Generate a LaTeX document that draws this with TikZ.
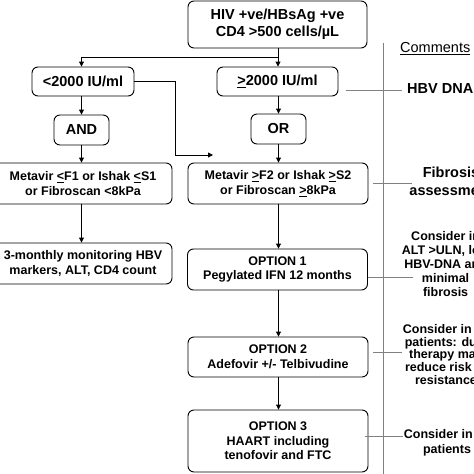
\documentclass[tikz,border=0pt]{standalone}
\usepackage{fontspec}
\setmainfont{Liberation Sans}
\usetikzlibrary{arrows.meta,calc}
\newcommand{\myul}[1]{\underline{#1}}
\tikzset{
  box/.style={draw, line width=0.9pt, rounded corners=6pt, fill=white, align=center, inner sep=0pt},
  big/.style={font=\fontsize{14.5}{17}\selectfont\bfseries},
  small/.style={font=\fontsize{12.5}{14.6}\selectfont\bfseries},
  arr/.style={line width=0.9pt, -{Triangle[length=5pt,width=5pt]}},
  gline/.style={draw=black!50, line width=0.8pt},
  ctext/.style={anchor=base, inner sep=0pt, font=\fontsize{12.5}{14.6}\selectfont\bfseries},
  ctitle/.style={anchor=base, inner sep=0pt, font=\fontsize{14.5}{17}\selectfont\bfseries}
}
\begin{document}
\begin{tikzpicture}[x=1pt,y=-1pt]
\useasboundingbox (0,0) rectangle (474,474);
\clip (0,0) rectangle (474,474);
\fill[white] (0,0) rectangle (474,474);

% main boxes
\node[box, big, minimum width=179pt, minimum height=47pt] (top) at (277.5,24.5) {HIV +ve/HBsAg +ve\\CD4 >500 cells/\textmu L};
\node[box, big, minimum width=102pt, minimum height=29pt] (lowL) at (83,81.5) {<2000 IU/ml};
\node[box, big, minimum width=121pt, minimum height=29pt] (hiR) at (277.5,81.5) {\myul{>}2000 IU/ml};
\node[box, big, minimum width=55pt, minimum height=30pt] (and) at (81.5,130) {AND};
\node[box, big, minimum width=55pt, minimum height=30pt] (or) at (278.5,129) {OR};
\node[box, small, minimum width=178pt, minimum height=41pt] (metL) at (83,183.5) {Metavir \myul{<}F1 or Ishak \myul{<}S1\\or Fibroscan <8kPa};
\node[box, small, minimum width=180pt, minimum height=41pt] (metR) at (278,183.5) {Metavir \myul{>}F2 or Ishak \myul{>}S2\\or Fibroscan \myul{>}8kPa};
\node[box, small, minimum width=178pt, minimum height=41pt] (mon) at (83,263.5) {3-monthly monitoring HBV\\markers, ALT, CD4 count};
\node[box, small, minimum width=180pt, minimum height=41pt] (opt1) at (277.5,269.5) {OPTION 1\\Pegylated IFN 12 months};
\node[box, small, minimum width=180pt, minimum height=40pt] (opt2) at (278,357) {OPTION 2\\Adefovir +/- Telbivudine};
\node[box, small, minimum width=180pt, minimum height=62pt] (opt3) at (278,441) {OPTION 3\\HAART including\\tenofovir and FTC};

% connectors
\coordinate (split) at (278,57);
\draw[arr] (top.south -| split) -- (hiR.north -| split);
\draw[arr] (split) -| (lowL.north -| and.north);
\draw[arr] (lowL.south -| and.north) -- (and.north);
\draw[arr] (hiR.south -| or.north) -- (or.north);
\coordinate (cross) at (213,155);
\draw[arr] (lowL.east) -- ++(41,0) |- (cross);
\draw[arr] (and.south) -- (and.south |- metL.north);
\draw[arr] (or.south) -- (or.south |- metR.north);
\draw[arr] (metL.south -| and.south) -- (and.south |- mon.north);
\draw[arr] (metR.south -| or.south) -- (or.south |- opt1.north);
\draw[arr] (opt1.south -| or.south) -- (or.south |- opt2.north);
\draw[arr] (opt2.south -| or.south) -- (or.south |- opt3.north);

% comments column
\draw[gline] (383.5,43) -- (383.5,480);
\node[anchor=base west, inner sep=0pt, font=\fontsize{14.5}{17}\selectfont] (ctitle) at (400,52.5) {\underline{Comments}};
\node[anchor=base west, inner sep=0pt, font=\fontsize{14.5}{17}\selectfont\bfseries] (c1) at (407,93.7) {HBV DNA};
\node[ctitle] (c2a) at (451,177.5) {Fibrosis};
\node[ctitle] (c2b) at (451,195.7) {assessment};
\node[ctext] (c3a) at (445.6,240.5) {Consider in};
\node[ctext] (c3b) at (445.6,254.5) {ALT >ULN, low};
\node[ctext] (c3c) at (445.6,268.5) {HBV-DNA and};
\node[ctext] (c3d) at (445.6,282.5) {minimal};
\node[ctext] (c3e) at (445.6,296.5) {fibrosis};
\node[ctext] (c4a) at (446,333.2) {Consider in all};
\node[ctext] (c4b) at (446,346) {patients: dual};
\node[ctext] (c4c) at (446,358.8) {therapy may};
\node[ctext] (c4d) at (446,371.6) {reduce risk of};
\node[ctext] (c4e) at (446,384.4) {resistance};
\node[ctext] (c5a) at (447,438.5) {Consider in all};
\node[ctext] (c5b) at (447,453.5) {patients};

% grey links
\draw[gline] ($(hiR.east)+(8,8.5)$) -- (402,90);
\draw[gline] ($(metR.east)+(5,0)$) -- (412,183.5);
\draw[gline] ($(opt1.east)+(0,8)$) -- (413,277.5);
\draw[gline] ($(opt2.east)+(5,-5)$) -- (402,352);
\draw[gline] ($(opt3.east)+(-3,-5)$) -- (403,436);
\end{tikzpicture}
\end{document}
